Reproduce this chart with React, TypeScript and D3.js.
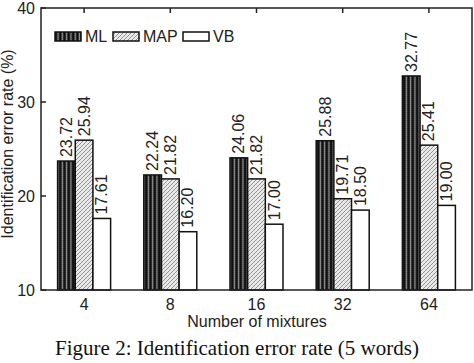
import React from "react";
import * as d3 from "d3";

const categories = ["4", "8", "16", "32", "64"];
const seriesNames = ["ML", "MAP", "VB"];
const mlValues = [23.72, 22.24, 24.06, 25.88, 32.77];
const mapValues = [25.94, 21.82, 21.82, 19.71, 25.41];
const vbValues = [17.61, 16.2, 17.0, 18.5, 19.0];
const yTicks = [10, 20, 30, 40];

const W = 474;
const H = 363;
const left = 41;
const right = 472;
const top = 8;
const bottom = 290;

const fills = ["url(#pML)", "url(#pMAP)", "#ffffff"];

export default function App() {
  const series = [mlValues, mapValues, vbValues];
  const x = d3.scaleBand<string>().domain(categories).range([left, right]).padding(0);
  const groupW = 53;
  const x1 = d3.scaleBand<string>().domain(seriesNames).range([0, groupW]).padding(0);
  const y = d3.scaleLinear().domain([10, 40]).range([bottom, top]);
  const font = "Liberation Sans, Arial, Helvetica, sans-serif";

  return (
    <svg width={W} height={H} style={{ position: "absolute", left: 0, top: 0, background: "#fff" }}>
      <defs>
        <pattern id="pML" patternUnits="userSpaceOnUse" width={4.3} height={4}>
          <rect width={4.3} height={4} fill="#111" />
          <line x1={2.15} y1={0} x2={2.15} y2={4} stroke="#555" strokeWidth={0.6} />
          <circle cx={2.15} cy={1} r={0.85} fill="#bbb" />
          <circle cx={2.15} cy={3} r={0.85} fill="#bbb" />
        </pattern>
        <pattern id="pMAP" patternUnits="userSpaceOnUse" width={4} height={4}>
          <rect width={4} height={4} fill="#f2f2f2" />
          <path d="M0,4 L4,0 M-1,1 L1,-1 M3,5 L5,3" stroke="#666" strokeWidth={0.7} />
          <circle cx={1} cy={1} r={0.45} fill="#888" />
          <circle cx={3} cy={3} r={0.45} fill="#999" />
        </pattern>
      </defs>

      {/* bars */}
      {categories.map((c, i) => {
        const gx = (x(c) as number) + (x.bandwidth() - groupW) / 2;
        return (
          <g key={c}>
            {seriesNames.map((s, j) => {
              const v = series[j][i];
              const bx = gx + (x1(s) as number);
              const bw = x1.bandwidth();
              return (
                <g key={s}>
                  <rect
                    x={bx}
                    y={y(v)}
                    width={bw}
                    height={y(10) - y(v)}
                    fill={fills[j]}
                    stroke="#111"
                    strokeWidth={1.5}
                  />
                  <text
                    transform={`translate(${bx + bw / 2},${y(v) - 4}) rotate(-90)`}
                    dominantBaseline="central"
                    textAnchor="start"
                    fontFamily={font}
                    fontSize={16}
                    fill="#222"
                  >
                    {v.toFixed(2)}
                  </text>
                </g>
              );
            })}
          </g>
        );
      })}

      {/* frame */}
      <rect x={left} y={top} width={right - left} height={bottom - top} fill="none" stroke="#222" strokeWidth={1.5} />

      {/* y ticks */}
      {yTicks.map((t) => (
        <g key={t}>
          <line x1={left} x2={left + 5} y1={y(t)} y2={y(t)} stroke="#222" strokeWidth={1.5} />
          <text x={35} y={y(t)} textAnchor="end" dominantBaseline="central" fontFamily={font} fontSize={16} fill="#222">
            {t}
          </text>
        </g>
      ))}

      {/* x ticks */}
      {categories.map((c) => {
        const cx = (x(c) as number) + x.bandwidth() / 2;
        return (
          <g key={c}>
            <line x1={cx} x2={cx} y1={top} y2={top + 5} stroke="#222" strokeWidth={1.5} />
            <text x={cx} y={310} textAnchor="middle" fontFamily={font} fontSize={16} fill="#222">
              {c}
            </text>
          </g>
        );
      })}

      {/* legend */}
      {seriesNames.map((s, j) => {
        const lx = [55, 113, 183][j];
        return (
          <g key={s}>
            <rect x={lx} y={32} width={26} height={9} fill={fills[j]} stroke="#111" strokeWidth={1.5} />
            <text x={lx + 30} y={42} fontFamily={font} fontSize={16} fill="#222">
              {s}
            </text>
          </g>
        );
      })}

      {/* axis titles */}
      <text
        transform={`translate(13,144) rotate(-90)`}
        textAnchor="middle"
        fontFamily={font}
        fontSize={16}
        fill="#222"
      >
        Identification error rate (%)
      </text>
      <text x={257} y={327} textAnchor="middle" fontFamily={font} fontSize={16} fill="#222">
        Number of mixtures
      </text>
      <text
        x={237}
        y={355}
        textAnchor="middle"
        fontFamily="Liberation Serif, Times New Roman, serif"
        fontSize={21}
        fill="#111"
      >
        Figure 2: Identification error rate (5 words)
      </text>
    </svg>
  );
}
